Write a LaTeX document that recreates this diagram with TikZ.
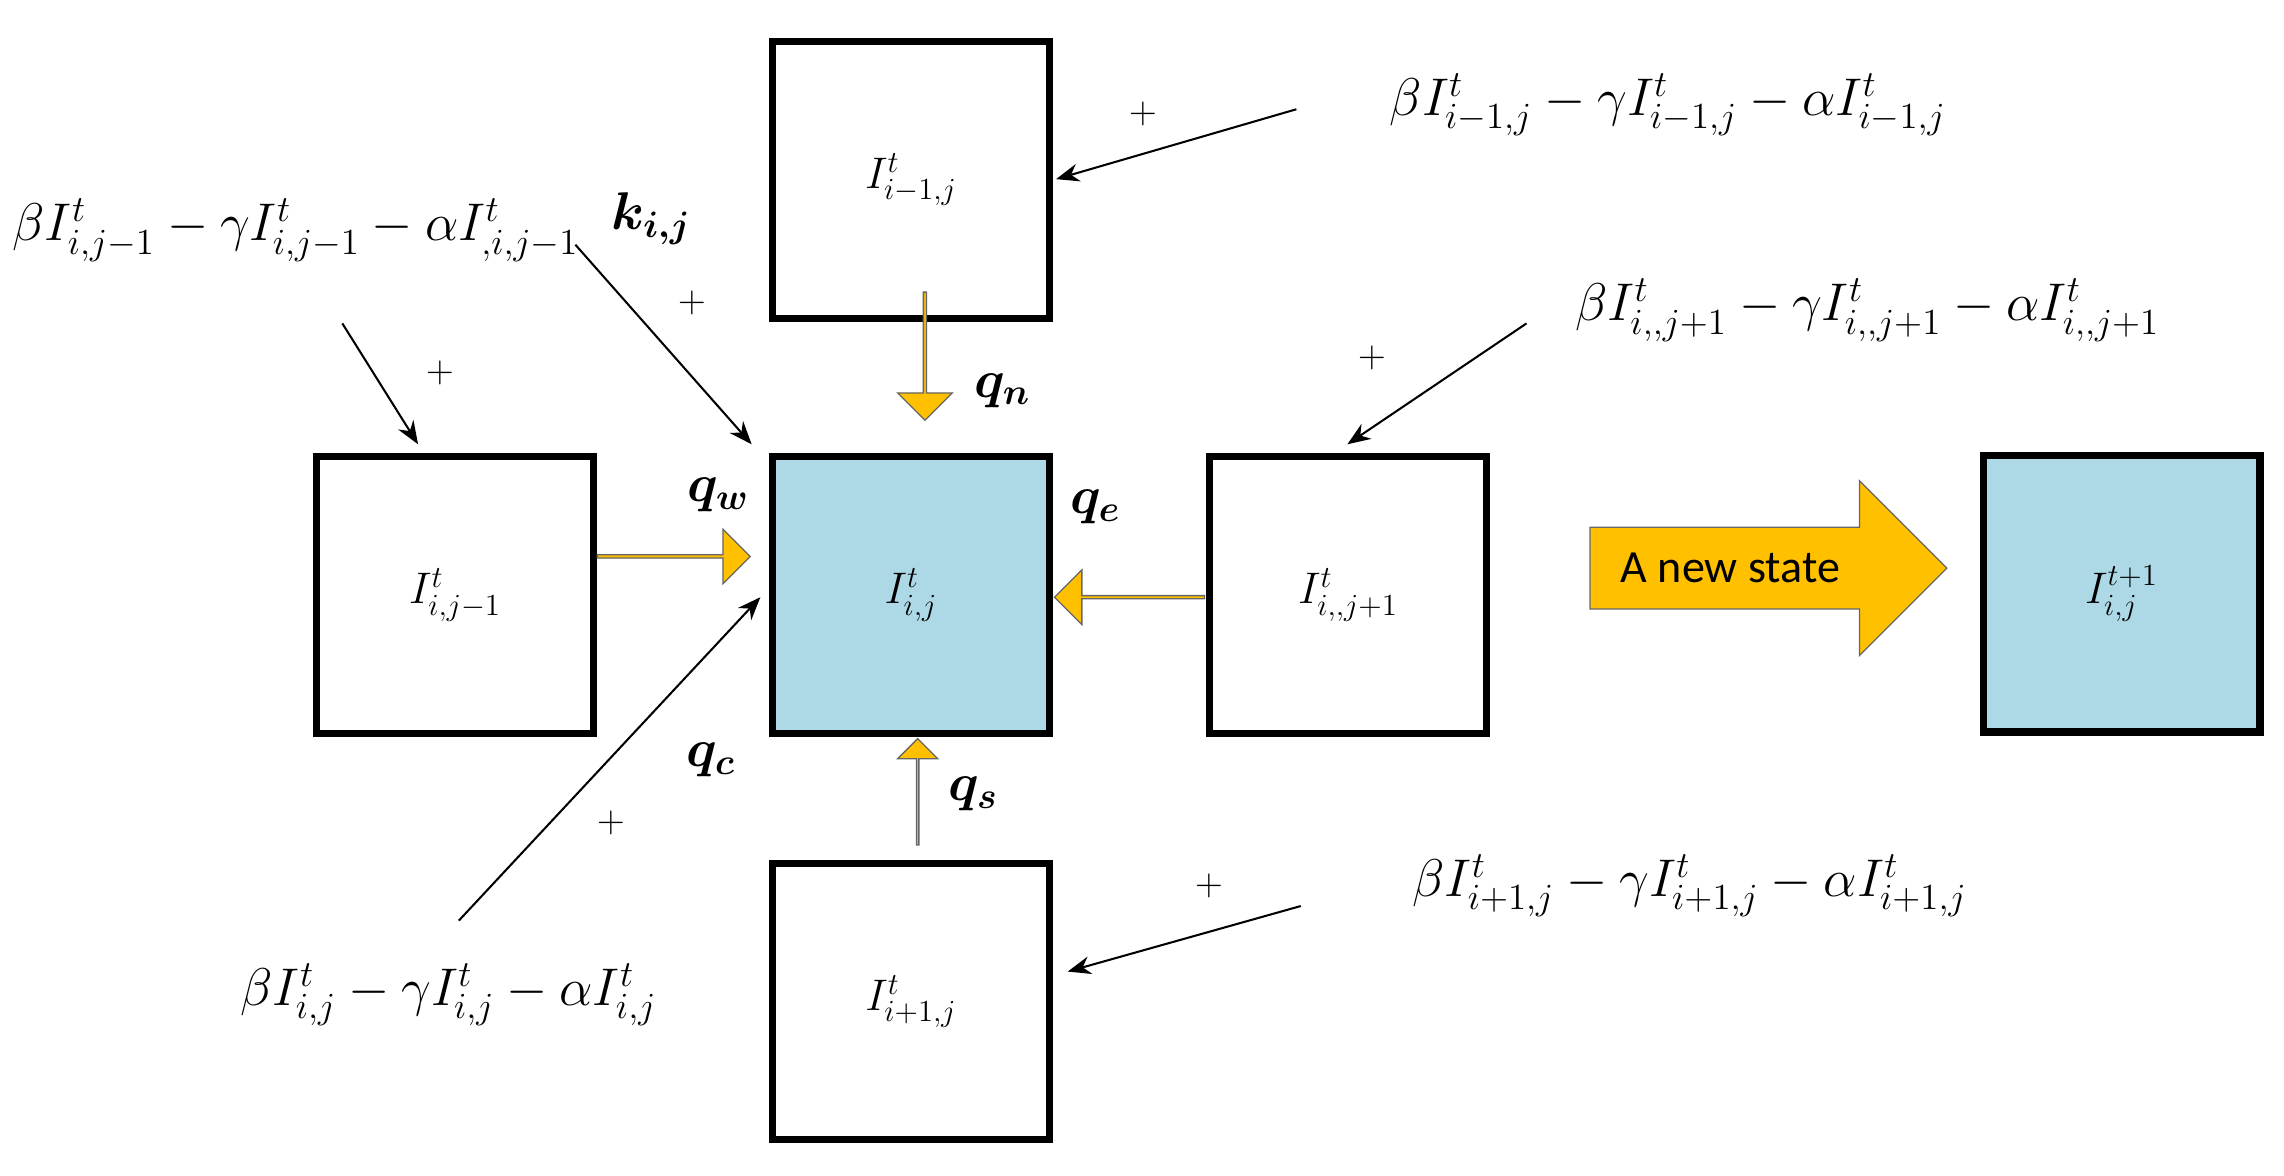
\documentclass[tikz,border=0pt]{standalone}
\usepackage{amsmath,bm}
\usepackage{fontspec}
\newfontfamily\carl{Carlito}
\usetikzlibrary{shapes.arrows,arrows.meta}
\definecolor{lb}{RGB}{173,216,230}
\definecolor{og}{RGB}{255,192,0}
\begin{document}
\begin{tikzpicture}[x=0.02cm,y=-0.02cm,
 box/.style={draw,line width=2.8pt,minimum width=3.8cm,minimum height=3.8cm,font=\fontsize{17}{20}\selectfont},
 fr/.style={font=\fontsize{21}{25}\selectfont},
 pl/.style={font=\fontsize{15}{18}\selectfont},
 ql/.style={font=\fontsize{20}{24}\selectfont},
 blk/.style={-{Stealth[length=9pt,width=7pt]},line width=0.8pt},
 oa/.style={single arrow,draw=black!60,fill=og,line width=0.5pt,minimum height=#1,single arrow head extend=4pt,minimum width=0.75cm,inner sep=0pt}]
\useasboundingbox (0,0) rectangle (1568,807);
\node[box] (T) at (625.5,123.5) {$I^t_{i-1,j}$};
\node[box,fill=lb] (C) at (625.5,408.5) {$I^t_{i,j}$};
\node[box] (L) at (312.5,408.5) {$I^t_{i,j-1}$};
\node[box] (R) at (925.5,408.5) {$I^t_{i,,j+1}$};
\node[box] (B) at (625.5,687.5) {$I^t_{i+1,j}$};
\node[box,fill=lb] (F) at (1456.5,407.5) {$I^{t+1}_{i,j}$};
% orange arrows
\node[oa=1.76cm,rotate=-90] (an) at (635,244) {};
\node[oa=2.1cm] (aw) at (462,382) {};
\node[oa=2.06cm,rotate=180] (ae) at (776,410) {};
\node[oa=1.46cm,rotate=90,minimum width=0.55cm] (as) at (630,544) {};
\node[single arrow,draw=black!60,fill=og,minimum height=4.9cm,minimum width=2.4cm,single arrow head extend=0.01cm,inner sep=0pt,line width=0.5pt] (big) at (1200,390) {};
\node[font=\carl\fontsize{18}{22}\selectfont] (ns) at (1188,390) {A new state};
% formulas
\node[fr] (fT) at (1145,72) {$\beta I^t_{i-1,j}-\gamma I^t_{i-1,j}-\alpha I^t_{i-1,j}$};
\node[fr] (fL) at (203,158) {$\beta I^t_{i,j-1}-\gamma I^t_{i,j-1}-\alpha I^t_{,i,j-1}$};
\node[fr] (fR) at (1282,213) {$\beta I^t_{i,,j+1}-\gamma I^t_{i,,j+1}-\alpha I^t_{i,,j+1}$};
\node[fr] (fB) at (308,683) {$\beta I^t_{i,j}-\gamma I^t_{i,j}-\alpha I^t_{i,j}$};
\node[fr] (fBR) at (1160,608) {$\beta I^t_{i+1,j}-\gamma I^t_{i+1,j}-\alpha I^t_{i+1,j}$};
% black arrows
\coordinate (s1) at (890,75); \coordinate (e1) at (725,123);
\draw[blk] (s1) -- (e1);
\coordinate (s2) at (395,168); \coordinate (e2) at (516,305);
\draw[blk] (s2) -- (e2);
\coordinate (s3) at (235,222); \coordinate (e3) at (287,305);
\draw[blk] (s3) -- (e3);
\coordinate (s4) at (1048,222); \coordinate (e4) at (925,305);
\draw[blk] (s4) -- (e4);
\coordinate (s5) at (315,632); \coordinate (e5) at (522,410);
\draw[blk] (s5) -- (e5);
\coordinate (s6) at (893,622); \coordinate (e6) at (733,667);
\draw[blk] (s6) -- (e6);
% plus signs
\node[pl] (p1) at (785,78) {+};
\node[pl] (p2) at (475,208) {+};
\node[pl] (p3) at (302,256) {+};
\node[pl] (p4) at (942,246) {+};
\node[pl] (p5) at (420,565) {+};
\node[pl] (p6) at (830,608) {+};
% q labels
\node[ql] (k) at (447,150) {$\bm{k_{i,j}}$};
\node[ql] (qn) at (688,268) {$\bm{q_n}$};
\node[ql] (qw) at (493,340) {$\bm{q_w}$};
\node[ql] (qe) at (752,348) {$\bm{q_e}$};
\node[ql] (qs) at (668,545) {$\bm{q_s}$};
\node[ql] (qc) at (488,522) {$\bm{q_c}$};
\end{tikzpicture}
\end{document}
